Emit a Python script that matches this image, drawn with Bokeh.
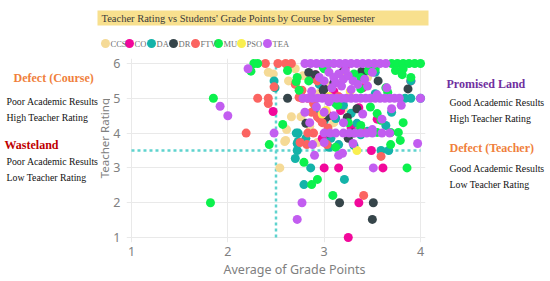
from bokeh.plotting import figure
from bokeh.models import FixedTicker, Range1d, Title
from bokeh.layouts import column, row
from bokeh.core.properties import value
from bokeh.embed import file_html
from bokeh.resources import INLINE

# ---------------- data ----------------
categories = ["CCS", "CO", "DA", "DR", "FTV", "MU", "PSO", "TEA"]
colors = ["#F5DA96", "#F2089B", "#14B3A9", "#36454A", "#FB6461", "#0CF14D", "#F9EF4F", "#C25DF0"]

ccs_points = [(2.42, 5.75), (2.47, 5.70), (2.63, 5.50), (2.66, 4.47), (2.76, 4.47), (2.61, 4.10),
              (2.60, 3.79), (2.54, 3.00), (2.59, 3.76), (2.93, 3.73), (2.70, 5.85), (2.85, 4.20),
              (3.05, 5.35), (3.20, 4.70), (3.45, 5.60), (2.95, 5.15), (3.10, 4.30), (2.78, 5.65)]
co_points = [(2.47, 4.62), (3.00, 3.00), (3.15, 3.00), (3.36, 2.00), (3.49, 3.50), (3.61, 3.00),
             (3.25, 1.00), (2.91, 5.68), (3.36, 4.73), (3.90, 5.50), (3.17, 4.65), (2.90, 5.57),
             (3.10, 5.20), (3.28, 4.15), (3.05, 4.50), (3.55, 4.40), (2.98, 3.85), (3.22, 5.90),
             (3.40, 5.30)]
da_points = [(2.48, 5.50), (2.49, 5.30), (2.73, 4.00), (2.73, 3.76), (2.72, 3.70), (2.72, 3.50),
             (3.05, 3.59), (3.15, 3.67), (3.31, 3.64), (3.59, 3.50), (3.67, 3.50), (2.70, 3.27),
             (2.86, 3.00), (2.79, 2.52), (3.21, 2.67), (3.84, 5.00), (3.90, 5.00), (4.00, 5.00),
             (3.90, 5.50), (3.28, 4.57), (3.34, 4.28), (3.64, 4.22), (3.12, 4.42), (3.07, 3.85),
             (2.81, 3.85), (2.71, 4.00), (3.53, 5.75), (3.53, 5.13), (3.00, 4.35), (3.45, 4.05),
             (3.20, 4.80), (2.95, 5.40), (3.70, 4.60), (2.90, 4.65), (3.38, 3.95)]
dr_points = [(2.62, 5.00), (2.81, 4.28), (3.16, 2.00), (3.51, 2.00), (3.50, 1.52), (3.19, 5.75),
             (3.40, 5.65), (3.56, 5.50), (3.87, 5.27), (3.00, 5.27), (3.02, 4.45), (3.24, 4.45),
             (3.30, 4.00), (2.84, 5.74), (2.91, 5.68), (2.99, 5.23), (3.04, 4.00), (3.39, 5.77),
             (3.34, 4.70), (3.25, 3.85), (3.10, 5.45)]
ftv_points = [(2.39, 6.00), (2.52, 6.00), (2.60, 6.00), (2.66, 6.00), (2.48, 5.33), (2.31, 5.00),
              (2.42, 5.00), (2.42, 4.85), (2.19, 4.00), (2.75, 3.73), (2.82, 3.67), (3.03, 3.67),
              (3.59, 3.33), (3.41, 2.21), (2.77, 5.23), (2.77, 5.00), (2.83, 5.00), (2.93, 4.47),
              (2.89, 4.00), (2.83, 4.00), (2.93, 5.50), (2.89, 4.85), (2.95, 4.42), (2.98, 4.30),
              (3.04, 4.15), (3.36, 4.07), (2.74, 5.03), (3.39, 4.07), (2.70, 5.40), (2.87, 4.60),
              (3.15, 5.05)]
mu_points = [(2.27, 6.00), (2.31, 6.00), (2.24, 5.78), (1.85, 5.00), (2.57, 4.25), (2.43, 3.67),
             (3.12, 3.59), (3.69, 3.67), (2.79, 3.16), (3.86, 3.00), (2.87, 2.52), (2.93, 2.67),
             (3.09, 2.21), (1.82, 2.00), (3.70, 6.00), (3.76, 6.00), (3.82, 6.00), (3.88, 6.00),
             (3.94, 6.00), (4.00, 6.00), (3.05, 6.00), (3.00, 5.85), (3.31, 5.70), (3.38, 5.60),
             (3.46, 5.80), (3.74, 5.80), (3.81, 5.68), (3.38, 5.27), (3.64, 5.30), (3.66, 5.17),
             (3.14, 4.80), (3.55, 4.56), (3.59, 4.37), (3.82, 4.30), (3.38, 4.22), (3.36, 4.05),
             (3.55, 4.02), (3.69, 4.02), (3.77, 4.02), (3.79, 3.79), (2.62, 5.80), (2.71, 5.48),
             (2.74, 5.23), (3.12, 4.85), (2.72, 5.60), (2.84, 5.50), (2.99, 5.89), (3.82, 5.85),
             (3.90, 5.60), (3.53, 5.85), (3.25, 4.30), (3.48, 4.75)]
pso_points = [(3.34, 3.50), (3.02, 4.65), (3.27, 5.20), (3.05, 5.05), (2.98, 4.55), (3.20, 5.62)]
tea_points = [(2.21, 5.85), (1.92, 4.77), (2.00, 4.50), (2.48, 4.00), (2.88, 3.67), (3.00, 3.73),
              (3.30, 3.70), (3.97, 3.70), (2.90, 3.36), (3.15, 3.36), (3.19, 3.42), (3.51, 3.00),
              (2.77, 2.00), (2.72, 1.52), (4.00, 5.00),
              (2.80, 6.00), (2.86, 6.00), (2.92, 6.00), (2.98, 6.00), (3.04, 6.00), (3.10, 6.00),
              (3.16, 6.00), (3.22, 6.00), (3.28, 6.00), (3.34, 6.00), (3.40, 6.00), (3.46, 6.00),
              (3.52, 6.00), (3.58, 6.00), (3.64, 6.00),
              (2.78, 5.00), (2.83, 5.00), (2.88, 5.00), (2.93, 5.00), (2.98, 5.00), (3.03, 5.00),
              (3.08, 5.00), (3.13, 5.00), (3.18, 5.00), (3.23, 5.00), (3.28, 5.00), (3.33, 5.00),
              (3.38, 5.00), (3.43, 5.00), (3.48, 5.00), (3.53, 5.00), (3.58, 5.00), (3.63, 5.00),
              (3.68, 5.00), (3.73, 5.00), (3.78, 5.00),
              (3.05, 5.75), (3.10, 5.60), (3.15, 5.70), (3.20, 5.55), (3.25, 5.65), (3.12, 5.45),
              (3.18, 5.35), (3.22, 5.80), (3.30, 5.50), (3.08, 5.30), (3.28, 5.25), (3.35, 5.40),
              (3.00, 5.50), (2.95, 5.60), (3.42, 5.55), (3.50, 5.75), (3.45, 5.35),
              (2.87, 5.20), (2.92, 4.75), (3.00, 4.60), (3.10, 4.50), (3.20, 4.30), (3.40, 4.55),
              (3.50, 4.10), (3.60, 4.40), (3.70, 4.70), (3.80, 4.80), (3.65, 5.30), (3.55, 5.10),
              (2.85, 4.30), (2.80, 4.60), (3.05, 4.90),
              (3.00, 4.00), (3.06, 4.00), (3.12, 4.00), (3.20, 4.00), (3.26, 4.00), (3.32, 4.00),
              (3.38, 4.00), (3.44, 4.00), (3.50, 4.00), (3.60, 4.00), (3.68, 4.00)]
series_points = [ccs_points, co_points, da_points, dr_points, ftv_points, mu_points, pso_points, tea_points]

x_ticks = [1, 2, 3, 4]
y_ticks = [1, 2, 3, 4, 5, 6]
avg_grade = 2.5
avg_rating = 3.5

title_text = "Teacher Rating vs Students' Grade Points by Course by Semester"
x_label = "Average of Grade Points"
y_label = "Teacher Rating"

left_notes = [("Defect (Course)", "#F07F3C", True), ("Poor Academic Results", "#111111", False),
              ("High Teacher Rating", "#111111", False), ("Wasteland", "#C00000", True),
              ("Poor Academic Results", "#111111", False), ("Low Teacher Rating", "#111111", False)]
right_notes = [("Promised Land", "#7030A0", True), ("Good Academic Results", "#111111", False),
               ("High Teacher Rating", "#111111", False), ("Defect (Teacher)", "#F07F3C", True),
               ("Good Academic Results", "#111111", False), ("Low Teacher Rating", "#111111", False)]

# ---------------- layout constants (page pixels) ----------------
W, H = 550, 281
TOP_H = 50
LEFT_W, MAIN_W = 110, 330
RIGHT_W = W - LEFT_W - MAIN_W
BODY_H = H - TOP_H


def panel(width, height, x0, x1, y0, y1):
    f = figure(width=width, height=height, x_range=Range1d(x0, x1), y_range=Range1d(y1, y0),
               output_backend="svg", toolbar_location=None, min_border=0,
               x_axis_location=None, y_axis_location=None)
    f.grid.visible = False
    f.outline_line_color = None
    f.background_fill_color = "white"
    f.border_fill_color = "white"
    return f


# ---------------- top strip: title + legend ----------------
top = panel(W, TOP_H, 0, W, 0, TOP_H)
top.quad(left=[97], right=[428], top=[10], bottom=[25], fill_color="#F8E08E", line_color=None)
top.text(x=[101], y=[17.5], text=[title_text], text_font=value("Liberation Sans Narrow"),
         text_font_size="10.5px", text_color="#3A3A3A", text_align="left", text_baseline="middle")
legend_x = [105, 129, 151, 173, 195, 218, 241, 267]
legend_y = [43] * len(categories)
top.scatter(x=legend_x, y=legend_y, size=9, color=colors, line_color=None)
top.text(x=[v + 5 for v in legend_x], y=legend_y, text=categories,
         text_font=value("Liberation Sans Narrow"), text_font_size="8.5px",
         text_color="#707070", text_align="left", text_baseline="middle")

# ---------------- side strips ----------------
def notes_panel(width, x0, notes, xs, ys):
    f = panel(width, BODY_H, x0, x0 + width, TOP_H, H)
    for (txt, col, bold), px, py in zip(notes, xs, ys):
        f.text(x=[px], y=[py], text=[txt], text_font=value("Liberation Serif"),
               text_font_size="12px" if bold else "9.8px",
               text_font_style="bold" if bold else "normal",
               text_color=col, text_align="left", text_baseline="middle")
    return f


left = notes_panel(LEFT_W, 0, left_notes, [13, 6, 6, 4, 6, 6], [75, 104, 124, 158, 179, 199])
left.text(x=[104], y=[150], text=[y_label], angle=1.5708, text_font=value("Noto Sans"),
          text_font_size="11.5px", text_color="#808080", text_align="center", text_baseline="middle")
right = notes_panel(RIGHT_W, LEFT_W + MAIN_W, right_notes,
                    [446, 449, 449, 449, 449, 449], [82, 105, 125, 162, 188, 208])

# ---------------- main scatter ----------------
PAD_X = 5 / (290 / 3)
PAD_Y = 5 / (174 / 5)
p = figure(width=MAIN_W, height=BODY_H,
           x_range=Range1d(1 - PAD_X, 4 + PAD_X), y_range=Range1d(1 - PAD_Y, 6 + PAD_Y),
           output_backend="svg", toolbar_location=None,
           min_border_left=15, min_border_right=15, min_border_top=8, min_border_bottom=39)
p.outline_line_color = None
p.background_fill_color = "white"
p.border_fill_color = "white"

for ax in (p.xaxis, p.yaxis):
    ax.axis_line_color = None
    ax.major_tick_line_color = None
    ax.minor_tick_line_color = None
    ax.major_label_text_color = "#808080"
    ax.major_label_text_font = "Noto Sans"
    ax.major_label_text_font_size = "12.5px"
p.xaxis.ticker = FixedTicker(ticks=x_ticks)
p.yaxis.ticker = FixedTicker(ticks=y_ticks)
p.xaxis.major_label_standoff = -2
p.yaxis.major_label_standoff = 0
p.xgrid.ticker = FixedTicker(ticks=x_ticks)
p.ygrid.ticker = FixedTicker(ticks=y_ticks)
p.grid.grid_line_color = "#E9E9E9"
p.grid.grid_line_width = 1

p.add_layout(Title(text=x_label, align="left", offset=97, text_font="Noto Sans",
                   text_font_size="12.5px", text_font_style="normal", text_color="#808080",
                   standoff=0), "below")

# average reference lines (dotted, spanning the tick extent)
p.segment(x0=[min(x_ticks)], x1=[max(x_ticks)], y0=[avg_rating], y1=[avg_rating],
          line_color="#5FD3CE", line_width=2.5, line_dash="3 3")
p.segment(x0=[avg_grade], x1=[avg_grade], y0=[min(y_ticks)], y1=[max(y_ticks)],
          line_color="#5FD3CE", line_width=2.5, line_dash="3 3")

for name, col, pts in zip(categories, colors, series_points):
    xs = [a for a, b in pts]
    ys = [b for a, b in pts]
    p.scatter(xs, ys, size=9, color=col, line_color=None)

layout = column(top, row(left, p, right))
open("out.html", "w").write(file_html(layout, INLINE))
